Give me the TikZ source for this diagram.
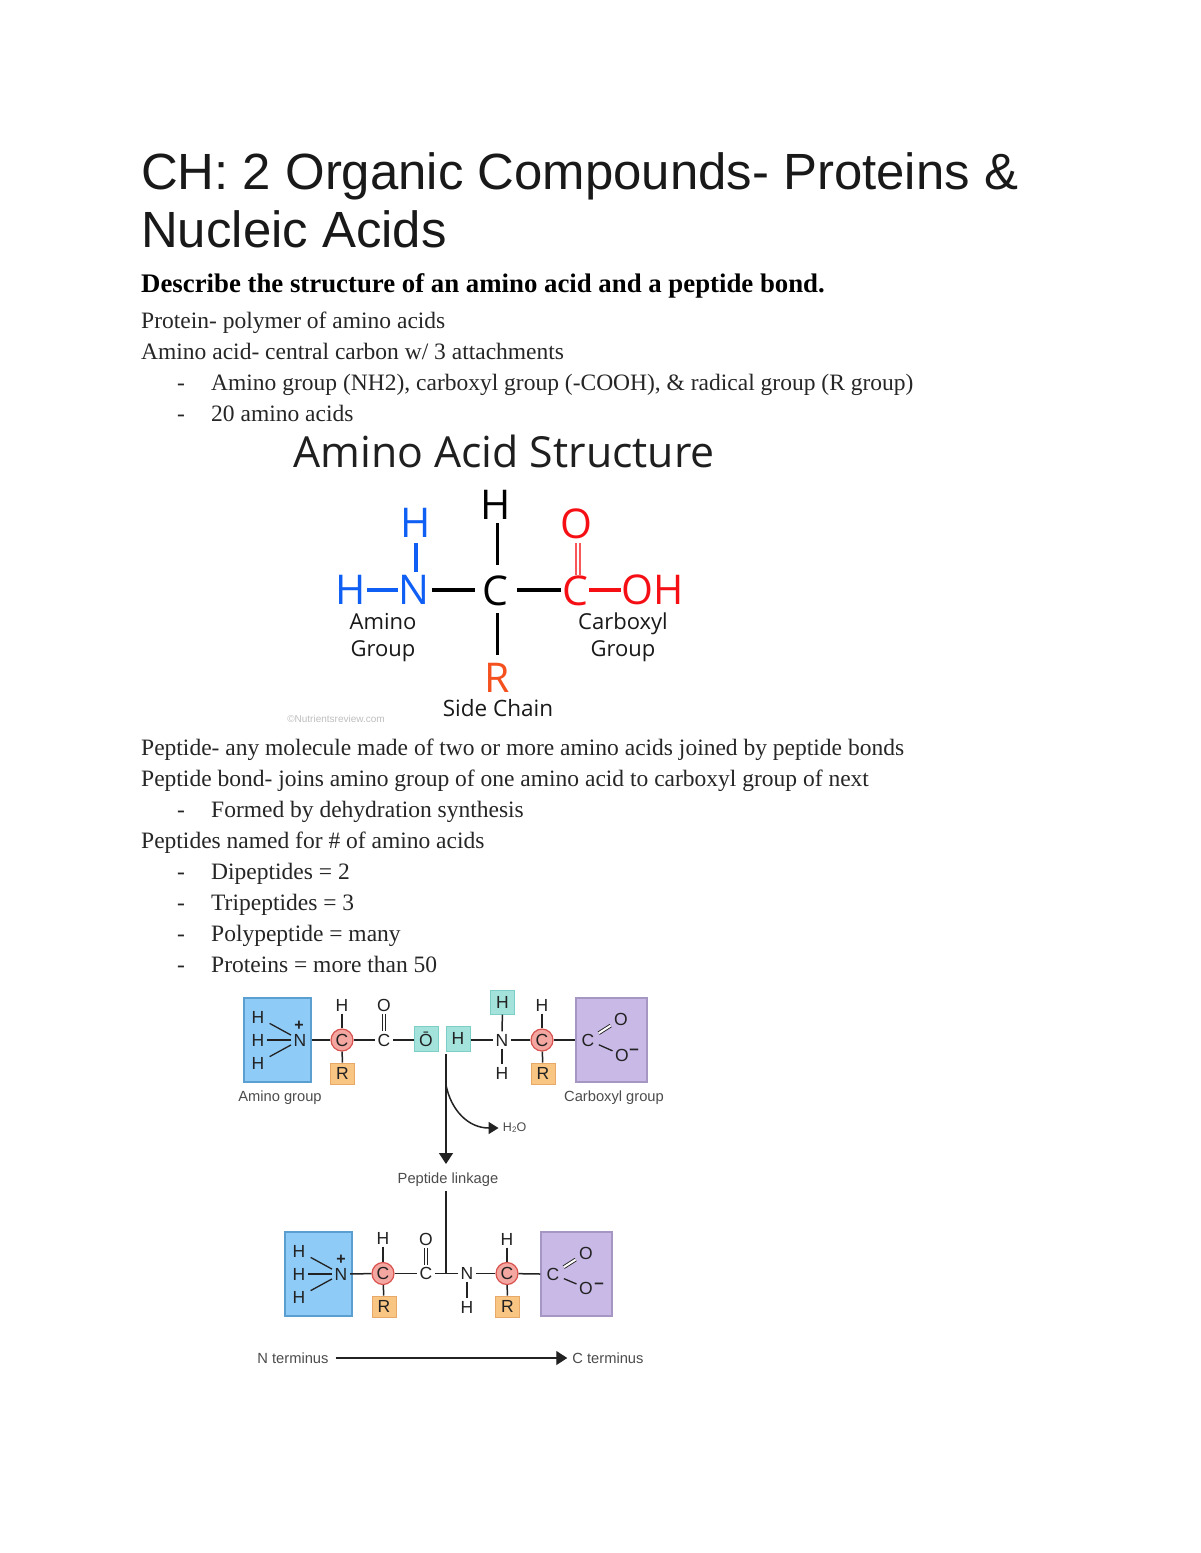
\documentclass[tikz,border=0pt]{standalone}
\usepackage{fontspec}
\setmainfont{Liberation Serif}
\newfontfamily\arialf{Liberation Sans}
\newfontfamily\openf{Open Sans}
\usetikzlibrary{arrows.meta}
\definecolor{aminoblue}{HTML}{8FCBF7}
\definecolor{aminoedge}{HTML}{5B9FD0}
\definecolor{carbpurple}{HTML}{C9B9E6}
\definecolor{carbedge}{HTML}{A596C4}
\definecolor{rfill}{HTML}{F9C583}
\definecolor{redge}{HTML}{E8A868}
\definecolor{cfill}{HTML}{F4A6A0}
\definecolor{cedge}{HTML}{D9534F}
\definecolor{teal}{HTML}{A3E3DC}
\definecolor{tealedge}{HTML}{7CCFC6}
\definecolor{ink}{HTML}{222222}
\definecolor{structblue}{HTML}{0F5FF5}
\definecolor{structred}{HTML}{F50F14}
\definecolor{structorange}{HTML}{F4511E}
\tikzset{
  x=1pt,y=-1pt,
  titletxt/.style={anchor=base west,inner sep=0pt,font=\arialf\fontsize{50.9}{55}\selectfont,text=black!90},
  headtxt/.style={anchor=base west,inner sep=0pt,font=\bfseries\fontsize{26.8}{30}\selectfont},
  bodytxt/.style={anchor=base west,inner sep=0pt,font=\fontsize{23.5}{28}\selectfont,text=black!85},
  atom/.style={inner sep=2.5pt,font=\arialf\fontsize{17.5}{19}\selectfont,text=ink},
  glabel/.style={inner sep=0pt,font=\arialf\fontsize{14.7}{16}\selectfont,text=black!70},
  bond/.style={draw=ink,line width=1.5pt},
  dblbond/.style={draw=ink,line width=.9pt,double=white,double distance=2pt},
  thinline/.style={draw=ink,line width=1.3pt},
  bigtip/.style={-{Triangle[length=11pt,width=14pt]}},
  aminobox/.style={draw=aminoedge,fill=aminoblue,line width=1.5pt,minimum width=67pt,minimum height=84pt,inner sep=0pt},
  carbbox/.style={draw=carbedge,fill=carbpurple,line width=1.5pt,minimum width=71pt,minimum height=84pt,inner sep=0pt},
  rbox/.style={draw=redge,fill=rfill,line width=1pt,minimum width=24pt,minimum height=21pt,inner sep=0pt,font=\arialf\fontsize{17.5}{19}\selectfont,text=ink},
  tealbox/.style={draw=tealedge,fill=teal,line width=1pt,minimum width=24pt,minimum height=24pt,inner sep=0pt,font=\arialf\fontsize{17.5}{19}\selectfont,text=ink},
  ccirc/.style={circle,draw=cedge,fill=cfill,line width=1.2pt,minimum size=22pt,inner sep=0pt,font=\arialf\fontsize{17.5}{19}\selectfont,text=ink},
  stitle/.style={inner sep=0pt,anchor=base,font=\openf\fontsize{42.8}{46}\selectfont,text=black!88},
  satom/.style={inner sep=0pt,anchor=base,font=\openf\fontsize{41}{44}\selectfont},
  slabel/.style={inner sep=0pt,anchor=base,font=\openf\fontsize{22}{24}\selectfont,text=black!90},
  sblack/.style={line width=4pt,draw=black},
  sthin/.style={line width=3pt,draw=black},
  sblue/.style={line width=3.6pt,draw=structblue},
  sred/.style={line width=3.6pt,draw=structred},
  sdouble/.style={draw=structred!70,line width=1.4pt},
  minussign/.style={inner sep=0pt,font=\arialf\bfseries\fontsize{17}{18}\selectfont,text=ink},
  plussign/.style={inner sep=0pt,font=\arialf\bfseries\fontsize{16}{17}\selectfont,text=ink},
}
\begin{document}
\begin{tikzpicture}
\useasboundingbox (0,0) rectangle (1200,1553);
\fill[white] (0,0) rectangle (1200,1553);

% ---- page text
\node[titletxt] (t1) at (141,189) {CH: 2 Organic Compounds- Proteins \&};
\node[titletxt] (t2) at (141,247) {Nucleic Acids};
\node[headtxt] (h1) at (141,292) {Describe the structure of an amino acid and a peptide bond.};
\node[bodytxt] (l1) at (141,328) {Protein- polymer of amino acids};
\node[bodytxt] (l2) at (141,359) {Amino acid- central carbon w/ 3 attachments};
\node[bodytxt] (b3) at (177,390) {-};
\node[bodytxt] (l3) at (211,390) {Amino group (NH2), carboxyl group (-COOH), \& radical group (R group)};
\node[bodytxt] (b4) at (177,421) {-};
\node[bodytxt] (l4) at (211,421) {20 amino acids};
\node[bodytxt] (l5) at (141,755) {Peptide- any molecule made of two or more amino acids joined by peptide bonds};
\node[bodytxt] (l6) at (141,786) {Peptide bond- joins amino group of one amino acid to carboxyl group of next};
\node[bodytxt] (b7) at (177,817) {-};
\node[bodytxt] (l7) at (211,817) {Formed by dehydration synthesis};
\node[bodytxt] (l8) at (141,848) {Peptides named for \# of amino acids};
\node[bodytxt] (b9) at (177,879) {-};
\node[bodytxt] (l9) at (211,879) {Dipeptides = 2};
\node[bodytxt] (b10) at (177,910) {-};
\node[bodytxt] (l10) at (211,910) {Tripeptides = 3};
\node[bodytxt] (b11) at (177,941) {-};
\node[bodytxt] (l11) at (211,941) {Polypeptide = many};
\node[bodytxt] (b12) at (177,972) {-};
\node[bodytxt] (l12) at (211,972) {Proteins = more than 50};

% ---- amino acid structure
\node[stitle] (st) at (504,467) {Amino Acid Structure};
\node[satom,text=black] (sH) at (496,519) {H};
\node[satom,text=black] (sC) at (495,605) {C};
\node[satom,text=structblue] (sN) at (414,604) {N};
\node[satom,text=structblue] (sH1) at (351,604) {H};
\node[satom,text=structblue] (sH2) at (416,537) {H};
\node[satom,text=structred] (sC2) at (575,605) {C};
\node[satom,text=structred] (sO) at (576,538) {O};
\node[satom,text=structred] (sOH) at (653,604) {OH};
\node[satom,text=structorange] (sR) at (497,692) {R};
\node[slabel] (sa1) at (383,629) {Amino};
\node[slabel] (sa2) at (383,656) {Group};
\node[slabel] (sc1) at (623,629) {Carboxyl};
\node[slabel] (sc2) at (623,656) {Group};
\node[slabel,font=\openf\fontsize{22.5}{24}\selectfont] (ss) at (498,716) {Side Chain};
\node[inner sep=0pt,font=\arialf\fontsize{10}{12}\selectfont,text=black!25] (wm) at (336,719) {©Nutrientsreview.com};
\coordinate (sm) at (0,590);
\draw[sthin] ([xshift=1pt,yshift=-4pt]sH.base) -- ([xshift=2pt,yshift=40pt]sC.base);
\draw[sthin] ([xshift=2pt,yshift=-8pt]sC.base) -- ([yshift=37pt]sR.base);
\draw[sblue] ([yshift=-6pt]sH2.base) -- ([xshift=2pt,yshift=32pt]sN.base);
\draw[sblue] ([xshift=1pt]sH1.east |- sm) -- ([xshift=0pt]sN.west |- sm);
\draw[sblack] ([xshift=2pt]sN.east |- sm) -- ([xshift=-7pt]sC.west |- sm);
\draw[sblack] ([xshift=9pt]sC.east |- sm) -- ([xshift=-1pt]sC2.west |- sm);
\draw[sred] ([xshift=1pt]sC2.east |- sm) -- ([xshift=-1pt]sOH.west |- sm);
\draw[sdouble] ([yshift=-5pt]sO.base) -- ([xshift=1pt,yshift=30pt]sC2.base);
\draw[sdouble] ([xshift=4pt,yshift=-5pt]sO.base) -- ([xshift=5pt,yshift=30pt]sC2.base);

% ---- peptide diagram, top
\node[aminobox] (ab1) at (277.5,1040) {};
\node[atom] (a1h1) at (258,1017) {H};
\node[atom] (a1h2) at (258,1040) {H};
\node[atom] (a1h3) at (258,1063) {H};
\node[atom] (a1n) at (300,1040) {N};
\node[plussign] (a1p) at (299,1026) {+};
\draw[thinline,shorten <=3pt] (a1h1) -- (a1n);
\draw[bond] (a1h2) -- (a1n);
\draw[thinline,shorten <=3pt] (a1h3) -- (a1n);
\node[ccirc] (c1) at (342,1040) {C};
\node[atom] (h1a) at (342,1005) {H};
\node[rbox] (r1) at (342.5,1073.5) {R};
\node[atom] (co1) at (384,1040) {C};
\node[atom] (oo1) at (384,1005) {O};
\node[tealbox,minimum height=25pt,anchor=center] (obox) at (426,1038.5) {};
\node[inner sep=0pt,anchor=base,font=\arialf\fontsize{17.5}{19}\selectfont,text=ink] (otxt) at (426,1046.5) {Ō};
\node[tealbox,minimum height=25pt] (hbox) at (458,1038.5) {H};
\node[atom] (n2) at (502,1040) {N};
\node[tealbox] (hbox2) at (502.5,1002) {H};
\node[atom] (h2b) at (502,1073) {H};
\node[ccirc] (c2) at (542,1040) {C};
\node[atom] (h2a) at (542,1005) {H};
\node[rbox] (r2) at (543,1073.5) {R};
\node[carbbox] (cb1) at (611.5,1040) {};
\node[atom] (cc1) at (588,1040) {C};
\node[atom] (co1a) at (621,1019) {O};
\node[atom] (co1b) at (622,1055) {O};
\node[minussign] (cm1) at (634,1051.5) {–};
\draw[bond] (ab1.east) -- (c1);
\draw[bond] (c1) -- (co1);
\draw[bond] (co1) -- (co1 -| obox.west);
\draw[bond] (h1a) -- (c1);
\draw[bond] (c1) -- (r1);
\draw[dblbond] (oo1) -- (co1);
\draw[bond] (hbox.east |- n2) -- (n2);
\draw[bond] (n2) -- (c2);
\draw[bond] (hbox2) -- (n2);
\draw[thinline] (n2) -- (h2b);
\draw[bond] (h2a) -- (c2);
\draw[bond] (c2) -- (r2);
\draw[bond] (c2) -- (cb1.west);
\draw[dblbond,shorten <=2pt,shorten >=1pt] (cc1) -- (co1a);
\draw[thinline,shorten <=2pt] (cc1) -- (co1b);
\node[glabel] (lab1) at (280,1098) {Amino group};
\node[glabel] (lab2) at (614,1098) {Carboxyl group};
\coordinate (split) at (446,1054);
\coordinate (curvestart) at (446,1085);
\node[glabel,font=\arialf\fontsize{12.5}{14}\selectfont] (water) at (514.5,1128) {H\kern.3pt\raisebox{-1pt}{\fontsize{8}{9}\selectfont 2}O};
\node[glabel] (pep1) at (448,1180) {Peptide linkage};
\coordinate (tipend) at (446,1164);
\draw[thinline,bigtip] (split) -- (tipend);
\draw[thinline,line width=1.5pt,shorten >=4pt,-{Triangle[length=10pt,width=12pt]}] (curvestart) .. controls (451,1110) and (468,1128) .. (water.west);

% ---- peptide diagram, bottom
\node[aminobox] (ab2) at (318.5,1274) {};
\node[atom] (b1h1) at (299,1251) {H};
\node[atom] (b1h2) at (299,1274) {H};
\node[atom] (b1h3) at (299,1297) {H};
\node[atom] (b1n) at (341,1274) {N};
\node[plussign] (b1p) at (341,1260) {+};
\draw[thinline,shorten <=3pt] (b1h1) -- (b1n);
\draw[bond] (b1h2) -- (b1n);
\draw[thinline,shorten <=3pt] (b1h3) -- (b1n);
\node[ccirc] (d1) at (383,1273.5) {C};
\node[atom] (dh1) at (383,1238) {H};
\node[rbox] (dr1) at (384,1306.5) {R};
\node[atom] (dco) at (426,1273.5) {C};
\node[atom] (doo) at (426,1239) {O};
\node[atom] (dn) at (467,1273.5) {N};
\node[atom] (dnh) at (467,1307) {H};
\node[ccirc] (d2) at (507,1273.5) {C};
\node[atom] (dh2) at (507,1239) {H};
\node[rbox] (dr2) at (507.5,1306.5) {R};
\node[carbbox] (cb2) at (576.5,1274) {};
\node[atom] (dc3) at (553,1274) {C};
\node[atom] (do3) at (586,1253) {O};
\node[atom] (do4) at (586,1288) {O};
\node[minussign] (dm) at (599,1285.5) {–};
\draw[bond] (b1n) -- (d1);
\draw[bond] (d1) -- (dco);
\draw[bond] (dco) -- (dn);
\draw[bond] (dn) -- (d2);
\draw[bond] (d2) -- (dc3 -| cb2.west);
\draw[bond] (dh1) -- (d1);
\draw[bond] (d1) -- (dr1);
\draw[dblbond] (doo) -- (dco);
\draw[thinline] (dn) -- (dnh);
\draw[bond] (dh2) -- (d2);
\draw[bond] (d2) -- (dr2);
\draw[dblbond,shorten <=2pt,shorten >=1pt] (dc3) -- (do3);
\draw[thinline,shorten <=2pt] (dc3) -- (do4);
\coordinate (junction) at (446,1273.5);
\draw[thinline] (pep1.south -| junction) ++(0,4) -- (junction);
\node[glabel] (nt) at (293,1358) {N terminus};
\node[glabel] (ct) at (608,1358) {C terminus};
\draw[thinline,bigtip,shorten <=7pt,shorten >=5pt] (nt.east) -- (ct.west);
\end{tikzpicture}
\end{document}
